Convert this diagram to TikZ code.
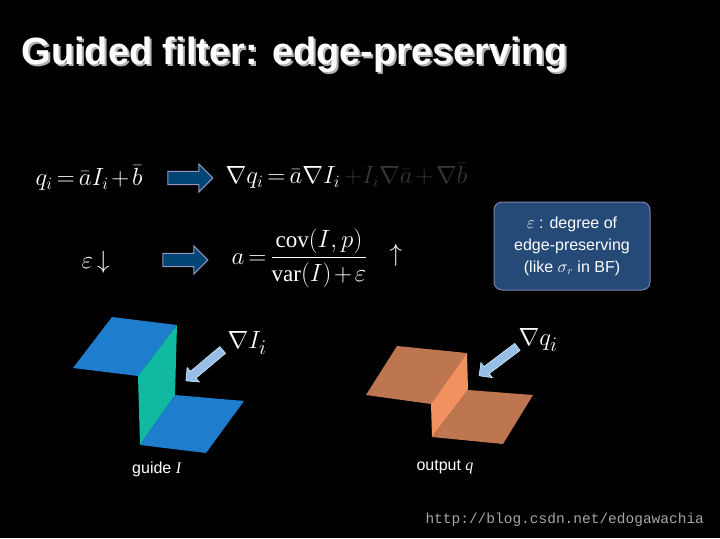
\documentclass[tikz,border=0pt]{standalone}
\usepackage{amsmath}
\usepackage{fontspec}
\setmainfont{Liberation Serif}
\setsansfont{Liberation Sans}
\setmonofont{Liberation Mono}
\usetikzlibrary{shapes.arrows}
\definecolor{boxblue}{RGB}{38,74,119}
\definecolor{surfblue}{RGB}{30,125,205}
\definecolor{surfgreen}{RGB}{16,185,160}
\definecolor{surforange}{RGB}{190,118,80}
\definecolor{faceorange}{RGB}{240,145,95}
\definecolor{pointfill}{RGB}{150,190,230}
\newcommand\tightmath{\thickmuskip=3mu\relax\medmuskip=2mu\relax}
\begin{document}
\begin{tikzpicture}[x=1pt,y=-1pt,
  fatarrow/.style={single arrow,draw=white!65!blue!50!gray,fill=blue!40!cyan!45!black,line width=1pt,minimum height=45pt,minimum width=28pt,single arrow head extend=7pt,inner xsep=0pt,inner ysep=6pt},
  pointer/.style={single arrow,draw=cyan!20!white,fill=pointfill,line width=0.6pt,minimum height=48pt,minimum width=19pt,single arrow head extend=5pt,inner xsep=0pt,inner ysep=4pt},
  eq/.style={text=white,font=\fontsize{23}{28}\selectfont\tightmath,anchor=west},
  captext/.style={text=white,font=\sffamily\fontsize{16}{19}\selectfont}]
\fill[black] (0,0) rectangle (720,538);
\useasboundingbox (0,0) rectangle (720,538);
% title
\node[anchor=west,text=gray!60,font=\sffamily\fontsize{38}{42}\bfseries] at (20,57) {Guided filter: edge-preserving};
\node[anchor=west,text=white,font=\sffamily\fontsize{38}{42}\bfseries] (title) at (18,55) {Guided filter: edge-preserving};
% row 1
\node[eq] (e1) at (32,178) {$q_i=\bar aI_i+\bar b$};
\node[fatarrow] (a1) at (187,178) {};
\node[eq] (e2) at (222,176) {$\nabla q_i=\bar a\nabla I_i$\textcolor{white!22!black}{$\,+I_i\nabla\bar a+\nabla\bar b$}};
% row 2
\node[eq] (e3) at (78,262) {$\varepsilon\downarrow$};
\node[fatarrow] (a2) at (182,260) {};
\node[eq] (e4) at (228,258) {$a=\dfrac{\mathrm{cov}(I,p)}{\mathrm{var}(I)+\varepsilon}$};
\node[eq] (e5) at (386,255) {$\uparrow$};
% box
\node[draw=blue!25!gray!80!white,line width=1pt,fill=boxblue,rounded corners=8pt,minimum width=156pt,minimum height=88pt,text=white,align=center,font=\sffamily\fontsize{16}{22}\selectfont] (box) at (572,246) {$\varepsilon$ : degree of\\edge-preserving\\(like $\sigma_r$ in BF)};
% blue surface
\fill[surfblue] (73,368) -- (112,317) -- (177,325) -- (138,376) -- cycle;
\fill[surfgreen] (138,376) -- (177,325) -- (175,395) -- (140,445) -- cycle;
\fill[surfblue] (175,395) -- (244,401) -- (206,453) -- (140,445) -- cycle;
% orange surface
\fill[surforange] (366,395) -- (397,346) -- (467,353) -- (431,404) -- cycle;
\fill[faceorange] (431,404) -- (467,353) -- (468,390) -- (432,437) -- cycle;
\fill[surforange] (468,390) -- (533,395) -- (503,444) -- (432,437) -- cycle;
% pointers
\coordinate (p1) at (206,364);
\node[pointer,rotate=-140] (pa) at (p1) {};
\coordinate (p2) at (500,360);
\node[pointer,rotate=-143] (pb) at (p2) {};
\node[eq,font=\fontsize{28}{32}\selectfont] (gi) at (224,343) {$\nabla I_i$};
\node[eq,font=\fontsize{28}{32}\selectfont] (gq) at (515,340) {$\nabla q_i$};
\node[captext] (l1) at (157,469) {guide \textit{\rmfamily I}};
\node[captext] (l2) at (445,467) {output \textit{\rmfamily q}};
\node[anchor=west,text=gray!70,font=\ttfamily\fontsize{14.5}{17}\selectfont] (url) at (422,520) {http://blog.csdn.net/edogawachia};
\end{tikzpicture}
\end{document}
